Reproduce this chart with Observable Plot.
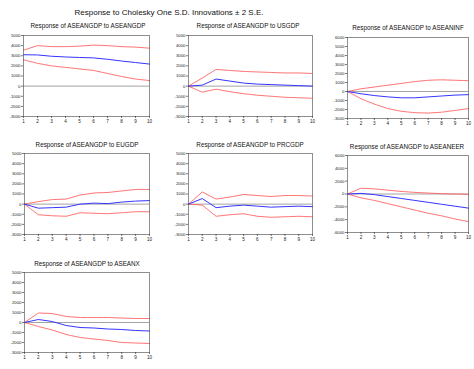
<!DOCTYPE html>
<html><head><meta charset="utf-8">
<script src="https://cdn.jsdelivr.net/npm/d3@7"></script>
<script src="https://cdn.jsdelivr.net/npm/@observablehq/plot@0.6"></script>
<style>
body{margin:0;background:#fff;font-family:Arial,"Liberation Sans",sans-serif;}
#c{position:relative;width:474px;height:369px;overflow:hidden;background:#fff;}
.t{position:absolute;white-space:nowrap;color:#111;transform:translate(-50%,-50%);line-height:1;}
#c svg{position:absolute;}
</style></head><body><div id="c"></div>
<script>
const mainTitle = "Response to Cholesky One S.D. Innovations ± 2 S.E.";
const periods = [1, 2, 3, 4, 5, 6, 7, 8, 9, 10];
const shocks = ["ASEANGDP", "USGDP", "ASEANINF", "EUGDP", "PRCGDP", "ASEANEER", "ASEANX"];

// response of ASEANGDP (blue) and ±2 S.E. bands (red)
const respASEANGDP  = [3100, 3080, 2950, 2880, 2830, 2790, 2650, 2480, 2330, 2180];
const upperASEANGDP = [3550, 4000, 3900, 3900, 3950, 4050, 4000, 3900, 3850, 3750];
const lowerASEANGDP = [2600, 2250, 2000, 1850, 1700, 1550, 1250, 950, 700, 550];

const respUSGDP  = [0, 100, 700, 500, 300, 200, 150, 100, 50, 0];
const upperUSGDP = [0, 800, 1650, 1550, 1450, 1400, 1350, 1300, 1300, 1250];
const lowerUSGDP = [0, -600, -300, -550, -750, -900, -1000, -1100, -1150, -1200];

const respASEANINF  = [0, -250, -450, -600, -700, -700, -600, -500, -400, -350];
const upperASEANINF = [0, 300, 500, 700, 900, 1100, 1250, 1300, 1250, 1200];
const lowerASEANINF = [0, -800, -1400, -1900, -2200, -2350, -2400, -2300, -2100, -1900];

const respEUGDP  = [0, -400, -350, -300, 0, 100, 50, 200, 300, 350];
const upperEUGDP = [0, 250, 450, 500, 900, 1100, 1150, 1300, 1450, 1450];
const lowerEUGDP = [0, -1050, -1150, -1200, -850, -900, -950, -850, -750, -750];

const respPRCGDP  = [0, 550, -350, -200, -100, -200, -300, -250, -200, -250];
const upperPRCGDP = [0, 1200, 500, 700, 950, 850, 750, 850, 850, 800];
const lowerPRCGDP = [0, -100, -1200, -1050, -950, -1200, -1300, -1250, -1200, -1250];

const respASEANEER  = [0, 100, -100, -400, -700, -1000, -1300, -1600, -1900, -2200];
const upperASEANEER = [0, 900, 800, 600, 400, 250, 150, 50, 0, -50];
const lowerASEANEER = [0, -600, -1000, -1500, -2000, -2500, -3000, -3400, -3900, -4300];

const respASEANX  = [0, 300, 100, -300, -500, -550, -650, -700, -800, -850];
const upperASEANX = [0, 950, 900, 600, 500, 500, 500, 450, 400, 400];
const lowerASEANX = [0, -400, -750, -1200, -1500, -1650, -1800, -2000, -2050, -2100];

const ticksA = [-3000, -2000, -1000, 0, 1000, 2000, 3000, 4000, 5000];
const ticksB = [-3000, -2000, -1000, 0, 1000, 2000, 3000, 4000, 5000, 6000];
const ticksC = [-6000, -4000, -2000, 0, 2000, 4000, 6000];

const series = {
  ASEANGDP: [respASEANGDP, upperASEANGDP, lowerASEANGDP, ticksA],
  USGDP: [respUSGDP, upperUSGDP, lowerUSGDP, ticksA],
  ASEANINF: [respASEANINF, upperASEANINF, lowerASEANINF, ticksB],
  EUGDP: [respEUGDP, upperEUGDP, lowerEUGDP, ticksA],
  PRCGDP: [respPRCGDP, upperPRCGDP, lowerPRCGDP, ticksA],
  ASEANEER: [respASEANEER, upperASEANEER, lowerASEANEER, ticksC],
  ASEANX: [respASEANX, upperASEANX, lowerASEANX, ticksA]
};

// layout: frame boxes [left, top, right, bottom] and subtitle centres
const frames = [
  [23, 35, 149, 116], [188, 35, 312, 116], [347, 37, 468, 118],
  [24, 153, 149, 234], [188, 153, 312, 234], [347, 155, 468, 232],
  [24, 272, 149, 352]
];
const subPos = [[88, 26], [248, 26], [408, 28], [87, 145], [250, 145], [407, 147], [87, 264]];

const c = document.getElementById("c");
const tt = document.createElement("div");
tt.className = "t"; tt.textContent = mainTitle;
tt.style.left = "169px"; tt.style.top = "13px"; tt.style.fontSize = "8px";
c.appendChild(tt);

const ML = 23, MT = 5, MR = 6, MB = 12;
shocks.forEach((s, k) => {
  const [resp, up, lo, ticks] = series[s];
  const [l, t, r, b] = frames[k];
  const fmt = d => String(d);
  const svg = Plot.plot({
    width: (r - l) + ML + MR,
    height: (b - t) + MT + MB,
    marginLeft: ML, marginTop: MT, marginRight: MR, marginBottom: MB,
    style: {fontFamily: "Arial, 'Liberation Sans', sans-serif", background: "transparent", color: "#222"},
    x: {domain: [1, 10]},
    y: {domain: [ticks[0], ticks[ticks.length - 1]]},
    marks: [
      Plot.ruleY([0], {stroke: "#9a9a9a", strokeWidth: 0.9}),
      Plot.lineY(up, {x: periods, stroke: "#ff5050", strokeWidth: 0.8, strokeDasharray: "1.6,0.7"}),
      Plot.lineY(lo, {x: periods, stroke: "#ff5050", strokeWidth: 0.8, strokeDasharray: "1.6,0.7"}),
      Plot.lineY(resp, {x: periods, stroke: "#3535ff", strokeWidth: 1}),
      Plot.frame({stroke: "#444", strokeWidth: 0.6}),
      Plot.axisX({ticks: periods, tickSize: 2, tickPadding: 1, tickFormat: fmt, fontSize: 4.6, strokeWidth: 0.6}),
      Plot.axisY({ticks: ticks, tickSize: 2, tickPadding: 1, tickFormat: fmt, fontSize: 4.3, strokeWidth: 0.6})
    ]
  });
  svg.style.left = (l - ML) + "px";
  svg.style.top = (t - MT) + "px";
  c.appendChild(svg);
  const st = document.createElement("div");
  st.className = "t"; st.textContent = "Response of ASEANGDP to " + s;
  st.style.left = subPos[k][0] + "px"; st.style.top = subPos[k][1] + "px"; st.style.fontSize = "6.3px";
  c.appendChild(st);
});
</script></body></html>
